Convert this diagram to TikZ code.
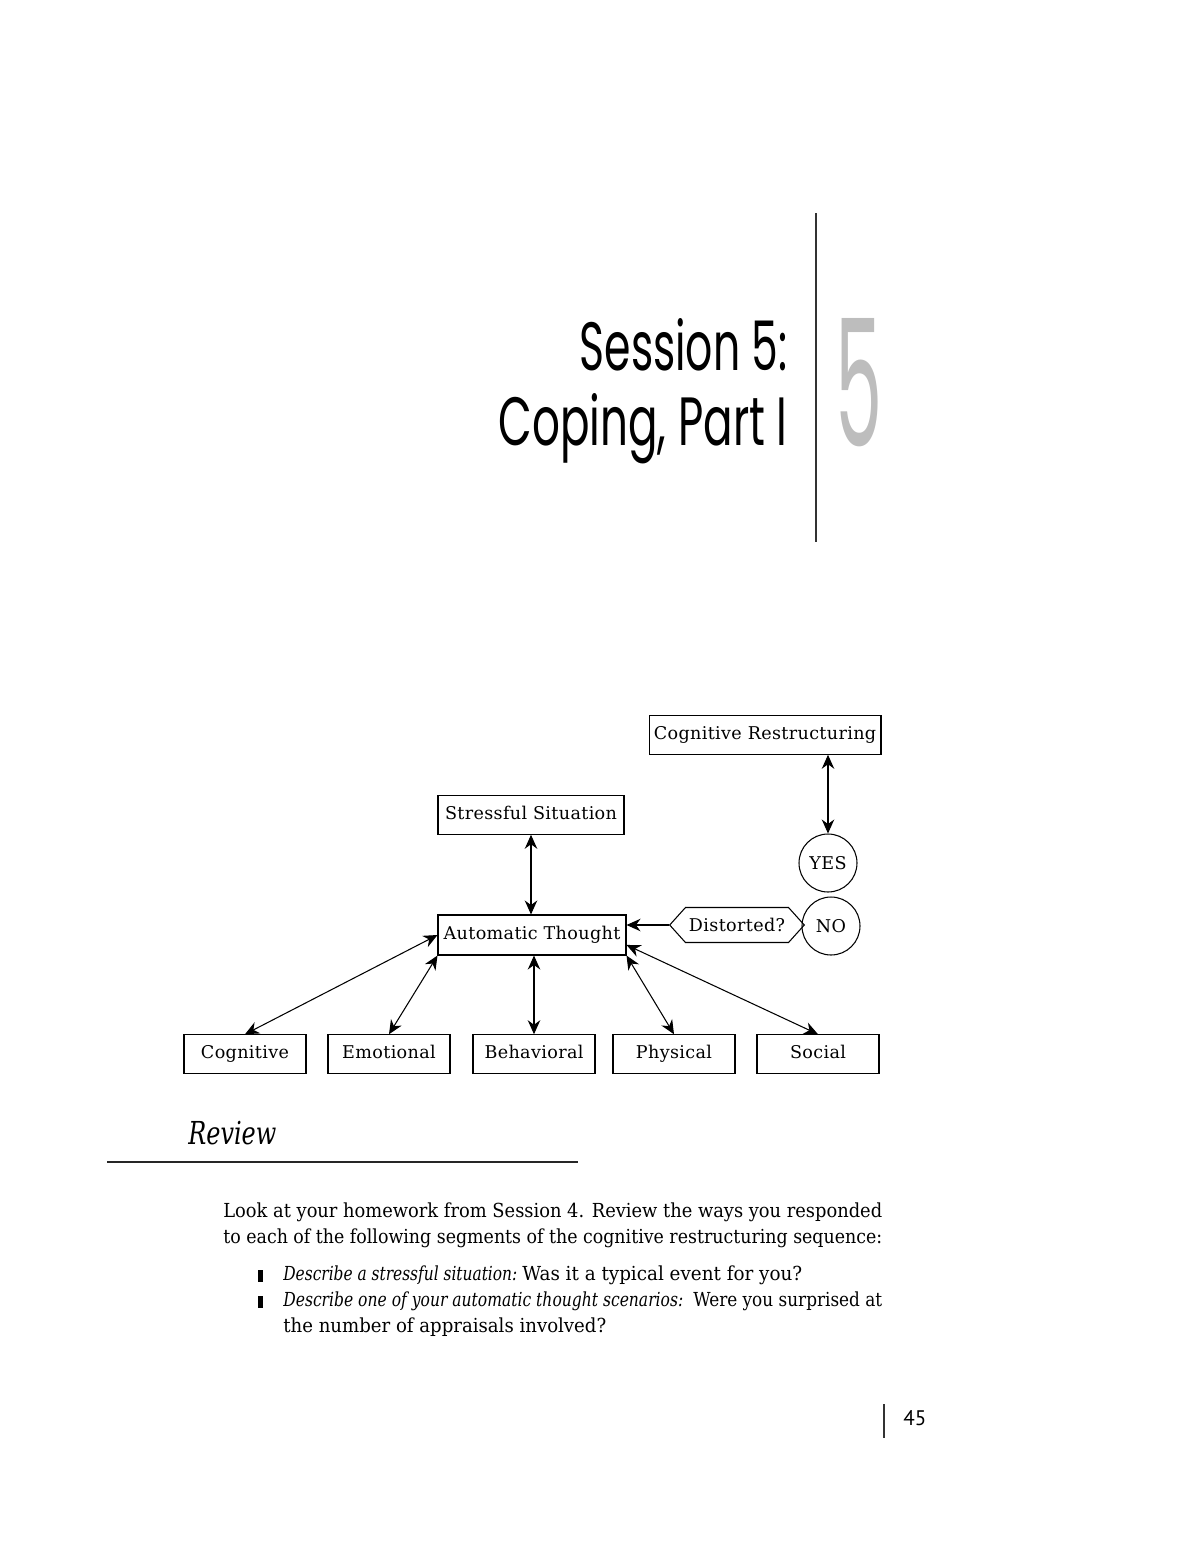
\documentclass[tikz,border=0pt]{standalone}
\usepackage{fontspec}
\setmainfont{DejaVu Serif}
\setsansfont{PT Sans}
\newfontfamily\diafont[LetterSpace=2]{DejaVu Serif}
\newfontfamily\titlefont{Poppins}
\usetikzlibrary{arrows.meta,shapes.symbols}
\definecolor{numgray}{gray}{0.74}
\newcommand{\fitw}[2]{\resizebox{#1}{\height}{#2}}

\begin{document}
\begin{tikzpicture}[
    x=0.02cm, y=-0.02cm,
    box/.style={rectangle, draw, line width=0.6pt, minimum height=0.77cm, inner sep=2pt,
        text height=7.6pt, text depth=2.2pt, font=\diafont\fontsize{10}{12}\selectfont},
    answer/.style={circle, draw, line width=0.6pt, minimum size=1.16cm, inner sep=0pt, font=\diafont\fontsize{10}{12}\selectfont},
    tip/.style={Stealth[length=2.8mm,width=2.5mm]},
    arrow/.style={{Stealth[length=2.8mm,width=2.5mm]}-{Stealth[length=2.8mm,width=2.5mm]}, line width=0.6pt},
    body/.style={anchor=base west, inner sep=0pt, font=\fontsize{11}{14}\selectfont}
]
\useasboundingbox (0,0) rectangle (1200,1553);

% Title
\node[anchor=base east, inner sep=0pt] (session) at (788,370) {\resizebox{4.16cm}{1.04cm}{\titlefont Session 5:}};
\node[anchor=base east, inner sep=0pt] (coping) at (788,445) {\resizebox{5.78cm}{1.04cm}{\titlefont Coping, Part I}};
\node[anchor=base west, inner sep=0pt, text=numgray] (chapter) at (835,446) {\resizebox{0.94cm}{2.56cm}{\titlefont 5}};
\draw[line width=0.9pt, black!80] (816,213) -- (816,542);

% Diagram boxes
\node[box, minimum width=4.64cm] (restruct) at (765,735) {Cognitive Restructuring};
\node[box, minimum width=3.72cm] (stress) at (531,815) {Stressful Situation};
\node[box, minimum width=3.76cm, minimum height=0.8cm] (auto) at (532,935) {Automatic Thought};
\node[answer] (yes) at (828,863) {YES};
\node[answer] (no) at (831,926) {NO};
\node[draw, line width=0.6pt, signal, signal to=west and east, signal pointer angle=96,
    minimum width=2.62cm, minimum height=0.7cm, inner sep=2pt,
    font=\diafont\fontsize{10}{12}\selectfont] (distort) at (737,925) {Distorted?};

% Bottom row
\node[box, minimum width=2.44cm] (cog) at (245,1054) {Cognitive};
\node[box, minimum width=2.44cm] (emo) at (389,1054) {Emotional};
\node[box, minimum width=2.44cm] (beh) at (534,1054) {Behavioral};
\node[box, minimum width=2.44cm] (phys) at (674,1054) {Physical};
\node[box, minimum width=2.44cm] (soc) at (818,1054) {Social};

% Arrows
\draw[arrow] (stress.south) -- (stress.south |- auto.north);
\draw[arrow] (yes.north) -- (yes.north |- restruct.south);
\draw[-{Stealth[length=2.8mm,width=2.5mm]}, line width=0.6pt] (distort.west) -- (distort.west -| auto.east);
\draw[arrow] (auto.west) -- (cog.north);
\draw[arrow] (auto.south west) -- (emo.north);
\draw[arrow] (auto.south -| beh.north) -- (beh.north);
\draw[arrow] (auto.south east) -- (phys.north);
\draw[arrow] (auto.354) -- (soc.north);

% Review heading
\node[anchor=base west, inner sep=0pt, font=\fontsize{18}{22}\selectfont] (review) at (188,1144) {\fitw{1.76cm}{\itshape Review}};
\draw[line width=0.8pt, black!85] (107,1162) -- (578,1162);

% Body text
\node[body] (line1) at (223,1217) {\fitw{13.18cm}{Look at your homework from Session 4. Review the ways you responded}};
\node[body] (line2) at (223,1243) {\fitw{13.18cm}{to each of the following segments of the cognitive restructuring sequence:}};
\fill (258,1270) rectangle (263,1282);
\fill (258,1296) rectangle (263,1308);
\node[body] (item1) at (283,1280) {\fitw{4.68cm}{\itshape Describe a stressful situation:}\hspace{0.1cm}\fitw{5.6cm}{Was it a typical event for you?}};
\node[body] (item2) at (283,1306) {\fitw{8.0cm}{\itshape Describe one of your automatic thought scenarios:}\hspace{0.2cm}\fitw{3.78cm}{Were you surprised at}};
\node[body] (item2b) at (283,1332) {\fitw{6.46cm}{the number of appraisals involved?}};

% Page number
\draw[line width=0.9pt, black!80] (884,1404) -- (884,1438);
\node[anchor=base west, inner sep=0pt, font=\sffamily\fontsize{12}{15}\selectfont] (page) at (903,1425) {45};

\end{tikzpicture}
\end{document}
